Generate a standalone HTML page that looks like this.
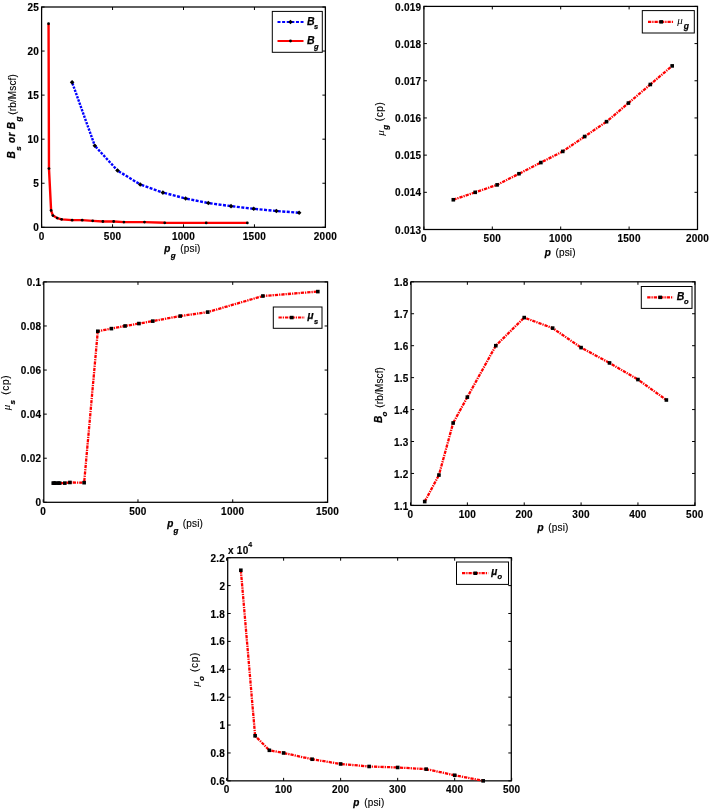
<!DOCTYPE html>
<html><head><meta charset="utf-8"><title>PVT properties</title>
<style>
html,body{margin:0;padding:0;background:#fff;}
svg{display:block;}
text{font-family:"Liberation Sans", sans-serif;font-size:10px;fill:#000;}
.tk{font-weight:bold;font-size:10px;letter-spacing:0.25px;stroke:#000;stroke-width:0.15px;}
.bi{font-family:"Liberation Sans", sans-serif;font-weight:bold;font-style:italic;font-size:10px;letter-spacing:0.3px;stroke:#000;stroke-width:0.25px;}
.rg{font-family:"Liberation Sans", sans-serif;font-weight:normal;font-style:normal;font-size:10px;letter-spacing:0.15px;stroke:#000;stroke-width:0.12px;}
.mu{font-family:"Liberation Serif",serif;font-style:italic;font-size:11px;}
</style></head><body>
<svg width="710" height="810" viewBox="0 0 710 810">
<rect width="710" height="810" fill="#fff"/>
<rect x="41.60" y="7.00" width="283.80" height="220.30" fill="#fff" stroke="#000" stroke-width="1.25"/>
<path d="M41.60 227.30v-3M41.60 7.00v3" stroke="#000" stroke-width="1" fill="none"/>
<text x="41.60" y="239.50" text-anchor="middle" class="tk">0</text>
<path d="M112.55 227.30v-3M112.55 7.00v3" stroke="#000" stroke-width="1" fill="none"/>
<text x="112.55" y="239.50" text-anchor="middle" class="tk">500</text>
<path d="M183.50 227.30v-3M183.50 7.00v3" stroke="#000" stroke-width="1" fill="none"/>
<text x="183.50" y="239.50" text-anchor="middle" class="tk">1000</text>
<path d="M254.45 227.30v-3M254.45 7.00v3" stroke="#000" stroke-width="1" fill="none"/>
<text x="254.45" y="239.50" text-anchor="middle" class="tk">1500</text>
<path d="M325.40 227.30v-3M325.40 7.00v3" stroke="#000" stroke-width="1" fill="none"/>
<text x="325.40" y="239.50" text-anchor="middle" class="tk">2000</text>
<path d="M41.60 227.30h3M325.40 227.30h-3" stroke="#000" stroke-width="1" fill="none"/>
<text x="39.10" y="231.40" text-anchor="end" class="tk">0</text>
<path d="M41.60 183.24h3M325.40 183.24h-3" stroke="#000" stroke-width="1" fill="none"/>
<text x="39.10" y="187.34" text-anchor="end" class="tk">5</text>
<path d="M41.60 139.18h3M325.40 139.18h-3" stroke="#000" stroke-width="1" fill="none"/>
<text x="39.10" y="143.28" text-anchor="end" class="tk">10</text>
<path d="M41.60 95.12h3M325.40 95.12h-3" stroke="#000" stroke-width="1" fill="none"/>
<text x="39.10" y="99.22" text-anchor="end" class="tk">15</text>
<path d="M41.60 51.06h3M325.40 51.06h-3" stroke="#000" stroke-width="1" fill="none"/>
<text x="39.10" y="55.16" text-anchor="end" class="tk">20</text>
<path d="M41.60 7.00h3M325.40 7.00h-3" stroke="#000" stroke-width="1" fill="none"/>
<text x="39.10" y="11.10" text-anchor="end" class="tk">25</text>
<path d="M72.11 82.34L94.81 145.79" fill="none" stroke="#0000ff" stroke-width="2.4" stroke-dasharray="2.30 1.13" stroke-dashoffset="-1.03"/>
<path d="M94.81 145.79L117.52 170.55" fill="none" stroke="#0000ff" stroke-width="2.4" stroke-dasharray="2.58 1.27" stroke-dashoffset="-1.15"/>
<path d="M117.52 170.55L140.22 184.47" fill="none" stroke="#0000ff" stroke-width="2.4" stroke-dasharray="2.80 1.38" stroke-dashoffset="-1.25"/>
<path d="M140.22 184.47L162.92 192.58" fill="none" stroke="#0000ff" stroke-width="2.4" stroke-dasharray="2.92 1.44" stroke-dashoffset="-1.31"/>
<path d="M162.92 192.58L185.63 198.48" fill="none" stroke="#0000ff" stroke-width="2.4" stroke-dasharray="2.96 1.46" stroke-dashoffset="-1.33"/>
<path d="M185.63 198.48L208.33 203.07" fill="none" stroke="#0000ff" stroke-width="2.4" stroke-dasharray="2.98 1.47" stroke-dashoffset="-1.34"/>
<path d="M208.33 203.07L231.04 206.15" fill="none" stroke="#0000ff" stroke-width="2.4" stroke-dasharray="3.00 1.48" stroke-dashoffset="-1.34"/>
<path d="M231.04 206.15L253.74 208.79" fill="none" stroke="#0000ff" stroke-width="2.4" stroke-dasharray="3.00 1.48" stroke-dashoffset="-1.35"/>
<path d="M253.74 208.79L276.44 211.00" fill="none" stroke="#0000ff" stroke-width="2.4" stroke-dasharray="3.01 1.48" stroke-dashoffset="-1.35"/>
<path d="M276.44 211.00L299.15 212.76" fill="none" stroke="#0000ff" stroke-width="2.4" stroke-dasharray="3.01 1.48" stroke-dashoffset="-1.35"/>
<polyline points="48.55,23.74 48.98,168.61 51.11,210.47 52.95,215.58 57.21,218.05 61.61,219.37 72.11,220.16 82.18,220.16 92.68,220.87 102.90,221.48 113.69,221.48 123.90,222.10 144.48,222.10 164.77,222.81 206.20,222.89 247.35,222.89" fill="none" stroke="#ff0000" stroke-width="2.4" stroke-linejoin="round"/>
<path d="M69.81 82.34L72.11 80.04L74.41 82.34L72.11 84.64Z" fill="#000"/>
<path d="M92.51 145.79L94.81 143.49L97.11 145.79L94.81 148.09Z" fill="#000"/>
<path d="M115.22 170.55L117.52 168.25L119.82 170.55L117.52 172.85Z" fill="#000"/>
<path d="M137.92 184.47L140.22 182.17L142.52 184.47L140.22 186.77Z" fill="#000"/>
<path d="M160.62 192.58L162.92 190.28L165.22 192.58L162.92 194.88Z" fill="#000"/>
<path d="M183.33 198.48L185.63 196.18L187.93 198.48L185.63 200.78Z" fill="#000"/>
<path d="M206.03 203.07L208.33 200.77L210.63 203.07L208.33 205.37Z" fill="#000"/>
<path d="M228.74 206.15L231.04 203.85L233.34 206.15L231.04 208.45Z" fill="#000"/>
<path d="M251.44 208.79L253.74 206.49L256.04 208.79L253.74 211.09Z" fill="#000"/>
<path d="M274.14 211.00L276.44 208.70L278.74 211.00L276.44 213.30Z" fill="#000"/>
<path d="M296.85 212.76L299.15 210.46L301.45 212.76L299.15 215.06Z" fill="#000"/>
<circle cx="48.55" cy="23.74" r="1.4" fill="#000"/>
<circle cx="48.98" cy="168.61" r="1.4" fill="#000"/>
<circle cx="51.11" cy="210.47" r="1.4" fill="#000"/>
<circle cx="52.95" cy="215.58" r="1.4" fill="#000"/>
<circle cx="57.21" cy="218.05" r="1.4" fill="#000"/>
<circle cx="61.61" cy="219.37" r="1.4" fill="#000"/>
<circle cx="72.11" cy="220.16" r="1.4" fill="#000"/>
<circle cx="82.18" cy="220.16" r="1.4" fill="#000"/>
<circle cx="92.68" cy="220.87" r="1.4" fill="#000"/>
<circle cx="102.90" cy="221.48" r="1.4" fill="#000"/>
<circle cx="113.69" cy="221.48" r="1.4" fill="#000"/>
<circle cx="123.90" cy="222.10" r="1.4" fill="#000"/>
<circle cx="144.48" cy="222.10" r="1.4" fill="#000"/>
<circle cx="164.77" cy="222.81" r="1.4" fill="#000"/>
<circle cx="206.20" cy="222.89" r="1.4" fill="#000"/>
<circle cx="247.35" cy="222.89" r="1.4" fill="#000"/>
<rect x="272.30" y="11.40" width="50.00" height="40.90" fill="#fff" stroke="#000" stroke-width="1"/>
<path d="M277.5 22H303.5" stroke="#0000ff" stroke-width="2" stroke-dasharray="3 1.62" fill="none"/>
<path d="M288.2 22L290.5 19.7L292.8 22L290.5 24.3Z" fill="#000"/>
<path d="M277.5 41H303.5" stroke="#ff0000" stroke-width="2" fill="none"/>
<circle cx="290.5" cy="41" r="1.4" fill="#000"/>
<text x="307" y="24.6" class="bi" style="font-size:10.5px">B<tspan dy="4.6" dx="-0.8" style="font-size:7.5px">s</tspan></text>
<text x="307" y="43.5" class="bi" style="font-size:10.5px">B<tspan dy="5.3" dx="-1" style="font-size:7.5px">g</tspan></text>
<text x="164.3" y="252" class="bi">p<tspan dy="5.8" dx="0" style="font-size:8px">g</tspan><tspan dy="-6.1" dx="4.4" class="rg">(psi)</tspan></text>
<text transform="translate(14.9,158.6) rotate(-90)" class="bi">B<tspan dy="5.8" dx="0.3" style="font-size:8px">s</tspan><tspan dy="-5.8"> or B</tspan><tspan dy="5.8" dx="0.3" style="font-size:8px">g</tspan><tspan dy="-4.8" dx="1.5" class="rg">(rb/Mscf)</tspan></text>
<rect x="423.90" y="6.40" width="273.60" height="223.10" fill="#fff" stroke="#000" stroke-width="1.25"/>
<path d="M423.90 229.50v-3M423.90 6.40v3" stroke="#000" stroke-width="1" fill="none"/>
<text x="423.90" y="241.70" text-anchor="middle" class="tk">0</text>
<path d="M492.30 229.50v-3M492.30 6.40v3" stroke="#000" stroke-width="1" fill="none"/>
<text x="492.30" y="241.70" text-anchor="middle" class="tk">500</text>
<path d="M560.70 229.50v-3M560.70 6.40v3" stroke="#000" stroke-width="1" fill="none"/>
<text x="560.70" y="241.70" text-anchor="middle" class="tk">1000</text>
<path d="M629.10 229.50v-3M629.10 6.40v3" stroke="#000" stroke-width="1" fill="none"/>
<text x="629.10" y="241.70" text-anchor="middle" class="tk">1500</text>
<path d="M697.50 229.50v-3M697.50 6.40v3" stroke="#000" stroke-width="1" fill="none"/>
<text x="697.50" y="241.70" text-anchor="middle" class="tk">2000</text>
<path d="M423.90 229.50h3M697.50 229.50h-3" stroke="#000" stroke-width="1" fill="none"/>
<text x="421.40" y="233.60" text-anchor="end" class="tk">0.013</text>
<path d="M423.90 192.32h3M697.50 192.32h-3" stroke="#000" stroke-width="1" fill="none"/>
<text x="421.40" y="196.42" text-anchor="end" class="tk">0.014</text>
<path d="M423.90 155.13h3M697.50 155.13h-3" stroke="#000" stroke-width="1" fill="none"/>
<text x="421.40" y="159.23" text-anchor="end" class="tk">0.015</text>
<path d="M423.90 117.95h3M697.50 117.95h-3" stroke="#000" stroke-width="1" fill="none"/>
<text x="421.40" y="122.05" text-anchor="end" class="tk">0.016</text>
<path d="M423.90 80.77h3M697.50 80.77h-3" stroke="#000" stroke-width="1" fill="none"/>
<text x="421.40" y="84.87" text-anchor="end" class="tk">0.017</text>
<path d="M423.90 43.58h3M697.50 43.58h-3" stroke="#000" stroke-width="1" fill="none"/>
<text x="421.40" y="47.68" text-anchor="end" class="tk">0.018</text>
<path d="M423.90 6.40h3M697.50 6.40h-3" stroke="#000" stroke-width="1" fill="none"/>
<text x="421.40" y="10.50" text-anchor="end" class="tk">0.019</text>
<polyline points="453.31,199.75 475.20,192.32 497.09,184.88 518.98,173.72 540.86,162.57 562.75,151.41 584.64,136.54 606.53,121.67 628.42,103.08 650.30,84.49 672.19,65.89" fill="none" stroke="#ff0000" stroke-width="2.3" stroke-dasharray="3.3 0.95 1.3 0.95" stroke-linejoin="round"/>
<rect x="451.51" y="197.95" width="3.6" height="3.6" fill="#000"/>
<rect x="473.40" y="190.52" width="3.6" height="3.6" fill="#000"/>
<rect x="495.29" y="183.08" width="3.6" height="3.6" fill="#000"/>
<rect x="517.18" y="171.92" width="3.6" height="3.6" fill="#000"/>
<rect x="539.06" y="160.77" width="3.6" height="3.6" fill="#000"/>
<rect x="560.95" y="149.61" width="3.6" height="3.6" fill="#000"/>
<rect x="582.84" y="134.74" width="3.6" height="3.6" fill="#000"/>
<rect x="604.73" y="119.87" width="3.6" height="3.6" fill="#000"/>
<rect x="626.62" y="101.28" width="3.6" height="3.6" fill="#000"/>
<rect x="648.50" y="82.69" width="3.6" height="3.6" fill="#000"/>
<rect x="670.39" y="64.09" width="3.6" height="3.6" fill="#000"/>
<rect x="642.30" y="10.60" width="52.00" height="22.40" fill="#fff" stroke="#000" stroke-width="1"/>
<path d="M648 21.8H674" stroke="#ff0000" stroke-width="2.2" stroke-dasharray="3.3 0.95 1.3 0.95" fill="none"/>
<rect x="659.3" y="20.1" width="3.8" height="3.5" fill="#000"/>
<text x="677.3" y="24" class="mu">&#956;<tspan dy="4.5" dx="0.8" class="bi" style="font-size:8.5px">g</tspan></text>
<text x="544.7" y="255.9" class="bi">p<tspan class="rg" dx="4.4">(psi)</tspan></text>
<text transform="translate(383.8,135.8) rotate(-90)" class="mu">&#956;<tspan dy="4.2" dx="0.5" class="bi" style="font-size:8px">g</tspan><tspan dy="-5.2" dx="3.3" class="rg" style="letter-spacing:0.65px">(cp)</tspan></text>
<rect x="43.80" y="281.90" width="283.80" height="220.40" fill="#fff" stroke="#000" stroke-width="1.25"/>
<path d="M43.20 502.30v-3M43.20 281.90v3" stroke="#000" stroke-width="1" fill="none"/>
<text x="43.20" y="514.50" text-anchor="middle" class="tk">0</text>
<path d="M137.97 502.30v-3M137.97 281.90v3" stroke="#000" stroke-width="1" fill="none"/>
<text x="137.97" y="514.50" text-anchor="middle" class="tk">500</text>
<path d="M232.73 502.30v-3M232.73 281.90v3" stroke="#000" stroke-width="1" fill="none"/>
<text x="232.73" y="514.50" text-anchor="middle" class="tk">1000</text>
<path d="M327.50 502.30v-3M327.50 281.90v3" stroke="#000" stroke-width="1" fill="none"/>
<text x="327.50" y="514.50" text-anchor="middle" class="tk">1500</text>
<path d="M43.80 502.30h3M327.60 502.30h-3" stroke="#000" stroke-width="1" fill="none"/>
<text x="41.30" y="506.40" text-anchor="end" class="tk">0</text>
<path d="M43.80 458.22h3M327.60 458.22h-3" stroke="#000" stroke-width="1" fill="none"/>
<text x="41.30" y="462.32" text-anchor="end" class="tk">0.02</text>
<path d="M43.80 414.14h3M327.60 414.14h-3" stroke="#000" stroke-width="1" fill="none"/>
<text x="41.30" y="418.24" text-anchor="end" class="tk">0.04</text>
<path d="M43.80 370.06h3M327.60 370.06h-3" stroke="#000" stroke-width="1" fill="none"/>
<text x="41.30" y="374.16" text-anchor="end" class="tk">0.06</text>
<path d="M43.80 325.98h3M327.60 325.98h-3" stroke="#000" stroke-width="1" fill="none"/>
<text x="41.30" y="330.08" text-anchor="end" class="tk">0.08</text>
<path d="M43.80 281.90h3M327.60 281.90h-3" stroke="#000" stroke-width="1" fill="none"/>
<text x="41.30" y="286.00" text-anchor="end" class="tk">0.1</text>
<polyline points="53.25,483.13 54.19,483.13 55.90,483.13 58.36,483.13 59.69,483.13 64.81,483.13 69.92,482.46 84.14,482.68 97.79,331.27 111.43,328.62 125.08,325.98 138.91,323.56 152.75,321.13 180.23,316.06 207.71,312.09 262.87,296.01 317.83,291.60" fill="none" stroke="#ff0000" stroke-width="2.3" stroke-dasharray="3.3 0.95 1.3 0.95" stroke-linejoin="round"/>
<rect x="51.45" y="481.33" width="3.6" height="3.6" fill="#000"/>
<rect x="52.39" y="481.33" width="3.6" height="3.6" fill="#000"/>
<rect x="54.10" y="481.33" width="3.6" height="3.6" fill="#000"/>
<rect x="56.56" y="481.33" width="3.6" height="3.6" fill="#000"/>
<rect x="57.89" y="481.33" width="3.6" height="3.6" fill="#000"/>
<rect x="63.01" y="481.33" width="3.6" height="3.6" fill="#000"/>
<rect x="68.12" y="480.66" width="3.6" height="3.6" fill="#000"/>
<rect x="82.34" y="480.88" width="3.6" height="3.6" fill="#000"/>
<rect x="95.99" y="329.47" width="3.6" height="3.6" fill="#000"/>
<rect x="109.63" y="326.82" width="3.6" height="3.6" fill="#000"/>
<rect x="123.28" y="324.18" width="3.6" height="3.6" fill="#000"/>
<rect x="137.11" y="321.76" width="3.6" height="3.6" fill="#000"/>
<rect x="150.95" y="319.33" width="3.6" height="3.6" fill="#000"/>
<rect x="178.43" y="314.26" width="3.6" height="3.6" fill="#000"/>
<rect x="205.91" y="310.29" width="3.6" height="3.6" fill="#000"/>
<rect x="261.07" y="294.21" width="3.6" height="3.6" fill="#000"/>
<rect x="316.03" y="289.80" width="3.6" height="3.6" fill="#000"/>
<rect x="273.30" y="307.00" width="48.70" height="21.30" fill="#fff" stroke="#000" stroke-width="1"/>
<path d="M278.5 317.5H304.8" stroke="#ff0000" stroke-width="2.2" stroke-dasharray="3.3 0.95 1.3 0.95" fill="none"/>
<rect x="289.8" y="315.8" width="3.8" height="3.5" fill="#000"/>
<text x="307.6" y="319.2" class="bi" style="font-size:10px">&#956;<tspan dy="4.4" dx="0" style="font-size:7.5px">s</tspan></text>
<text x="167.2" y="527.4" class="bi">p<tspan dy="5.8" dx="0" style="font-size:8px">g</tspan><tspan dy="-6.1" dx="4" class="rg">(psi)</tspan></text>
<text transform="translate(10.15,410.3) rotate(-90)" class="mu">&#956;<tspan dy="4.4" dx="0.4" class="bi" style="font-size:8px">s</tspan><tspan dy="-5.2" dx="5" class="rg" style="letter-spacing:0.65px">(cp)</tspan></text>
<rect x="411.05" y="281.80" width="284.00" height="223.60" fill="#fff" stroke="#000" stroke-width="1.25"/>
<path d="M410.50 505.40v-3M410.50 281.80v3" stroke="#000" stroke-width="1" fill="none"/>
<text x="410.50" y="517.60" text-anchor="middle" class="tk">0</text>
<path d="M467.36 505.40v-3M467.36 281.80v3" stroke="#000" stroke-width="1" fill="none"/>
<text x="467.36" y="517.60" text-anchor="middle" class="tk">100</text>
<path d="M524.22 505.40v-3M524.22 281.80v3" stroke="#000" stroke-width="1" fill="none"/>
<text x="524.22" y="517.60" text-anchor="middle" class="tk">200</text>
<path d="M581.08 505.40v-3M581.08 281.80v3" stroke="#000" stroke-width="1" fill="none"/>
<text x="581.08" y="517.60" text-anchor="middle" class="tk">300</text>
<path d="M637.94 505.40v-3M637.94 281.80v3" stroke="#000" stroke-width="1" fill="none"/>
<text x="637.94" y="517.60" text-anchor="middle" class="tk">400</text>
<path d="M694.80 505.40v-3M694.80 281.80v3" stroke="#000" stroke-width="1" fill="none"/>
<text x="694.80" y="517.60" text-anchor="middle" class="tk">500</text>
<path d="M411.05 505.40h3M695.05 505.40h-3" stroke="#000" stroke-width="1" fill="none"/>
<text x="408.55" y="509.50" text-anchor="end" class="tk">1.1</text>
<path d="M411.05 473.46h3M695.05 473.46h-3" stroke="#000" stroke-width="1" fill="none"/>
<text x="408.55" y="477.56" text-anchor="end" class="tk">1.2</text>
<path d="M411.05 441.51h3M695.05 441.51h-3" stroke="#000" stroke-width="1" fill="none"/>
<text x="408.55" y="445.61" text-anchor="end" class="tk">1.3</text>
<path d="M411.05 409.57h3M695.05 409.57h-3" stroke="#000" stroke-width="1" fill="none"/>
<text x="408.55" y="413.67" text-anchor="end" class="tk">1.4</text>
<path d="M411.05 377.63h3M695.05 377.63h-3" stroke="#000" stroke-width="1" fill="none"/>
<text x="408.55" y="381.73" text-anchor="end" class="tk">1.5</text>
<path d="M411.05 345.69h3M695.05 345.69h-3" stroke="#000" stroke-width="1" fill="none"/>
<text x="408.55" y="349.79" text-anchor="end" class="tk">1.6</text>
<path d="M411.05 313.74h3M695.05 313.74h-3" stroke="#000" stroke-width="1" fill="none"/>
<text x="408.55" y="317.84" text-anchor="end" class="tk">1.7</text>
<path d="M411.05 281.80h3M695.05 281.80h-3" stroke="#000" stroke-width="1" fill="none"/>
<text x="408.55" y="285.90" text-anchor="end" class="tk">1.8</text>
<polyline points="424.71,501.57 438.93,475.05 453.14,422.99 467.36,397.11 495.79,345.69 524.22,317.58 552.65,328.12 581.08,347.60 609.51,362.93 637.94,379.55 666.37,399.99" fill="none" stroke="#ff0000" stroke-width="2.3" stroke-dasharray="3.3 0.95 1.3 0.95" stroke-linejoin="round"/>
<rect x="422.91" y="499.77" width="3.6" height="3.6" fill="#000"/>
<rect x="437.13" y="473.25" width="3.6" height="3.6" fill="#000"/>
<rect x="451.34" y="421.19" width="3.6" height="3.6" fill="#000"/>
<rect x="465.56" y="395.31" width="3.6" height="3.6" fill="#000"/>
<rect x="493.99" y="343.89" width="3.6" height="3.6" fill="#000"/>
<rect x="522.42" y="315.78" width="3.6" height="3.6" fill="#000"/>
<rect x="550.85" y="326.32" width="3.6" height="3.6" fill="#000"/>
<rect x="579.28" y="345.80" width="3.6" height="3.6" fill="#000"/>
<rect x="607.71" y="361.13" width="3.6" height="3.6" fill="#000"/>
<rect x="636.14" y="377.75" width="3.6" height="3.6" fill="#000"/>
<rect x="664.57" y="398.19" width="3.6" height="3.6" fill="#000"/>
<rect x="641.30" y="286.50" width="50.70" height="21.90" fill="#fff" stroke="#000" stroke-width="1"/>
<path d="M647.2 297.3H673.3" stroke="#ff0000" stroke-width="2.2" stroke-dasharray="3.3 0.95 1.3 0.95" fill="none"/>
<rect x="658.3" y="295.6" width="3.8" height="3.5" fill="#000"/>
<text x="676.8" y="299.6" class="bi" style="font-size:10.5px">B<tspan dy="4.8" dx="-0.6" style="font-size:7.5px">o</tspan></text>
<text x="537.5" y="531.1" class="bi">p<tspan class="rg" dx="4.4">(psi)</tspan></text>
<text transform="translate(382.4,423) rotate(-90)" class="bi">B<tspan dy="4.7" dx="-1" style="font-size:8px">o</tspan><tspan dy="-4.1" dx="3.6" class="rg">(rb/Mscf)</tspan></text>
<rect x="227.70" y="557.70" width="283.60" height="223.15" fill="#fff" stroke="#000" stroke-width="1.25"/>
<path d="M226.60 780.85v-3M226.60 557.70v3" stroke="#000" stroke-width="1" fill="none"/>
<text x="226.60" y="793.05" text-anchor="middle" class="tk">0</text>
<path d="M283.62 780.85v-3M283.62 557.70v3" stroke="#000" stroke-width="1" fill="none"/>
<text x="283.62" y="793.05" text-anchor="middle" class="tk">100</text>
<path d="M340.64 780.85v-3M340.64 557.70v3" stroke="#000" stroke-width="1" fill="none"/>
<text x="340.64" y="793.05" text-anchor="middle" class="tk">200</text>
<path d="M397.66 780.85v-3M397.66 557.70v3" stroke="#000" stroke-width="1" fill="none"/>
<text x="397.66" y="793.05" text-anchor="middle" class="tk">300</text>
<path d="M454.68 780.85v-3M454.68 557.70v3" stroke="#000" stroke-width="1" fill="none"/>
<text x="454.68" y="793.05" text-anchor="middle" class="tk">400</text>
<path d="M511.70 780.85v-3M511.70 557.70v3" stroke="#000" stroke-width="1" fill="none"/>
<text x="511.70" y="793.05" text-anchor="middle" class="tk">500</text>
<path d="M227.70 780.85h3M511.30 780.85h-3" stroke="#000" stroke-width="1" fill="none"/>
<text x="225.20" y="784.95" text-anchor="end" class="tk">0.6</text>
<path d="M227.70 752.96h3M511.30 752.96h-3" stroke="#000" stroke-width="1" fill="none"/>
<text x="225.20" y="757.06" text-anchor="end" class="tk">0.8</text>
<path d="M227.70 725.06h3M511.30 725.06h-3" stroke="#000" stroke-width="1" fill="none"/>
<text x="225.20" y="729.16" text-anchor="end" class="tk">1</text>
<path d="M227.70 697.17h3M511.30 697.17h-3" stroke="#000" stroke-width="1" fill="none"/>
<text x="225.20" y="701.27" text-anchor="end" class="tk">1.2</text>
<path d="M227.70 669.28h3M511.30 669.28h-3" stroke="#000" stroke-width="1" fill="none"/>
<text x="225.20" y="673.38" text-anchor="end" class="tk">1.4</text>
<path d="M227.70 641.38h3M511.30 641.38h-3" stroke="#000" stroke-width="1" fill="none"/>
<text x="225.20" y="645.48" text-anchor="end" class="tk">1.6</text>
<path d="M227.70 613.49h3M511.30 613.49h-3" stroke="#000" stroke-width="1" fill="none"/>
<text x="225.20" y="617.59" text-anchor="end" class="tk">1.8</text>
<path d="M227.70 585.59h3M511.30 585.59h-3" stroke="#000" stroke-width="1" fill="none"/>
<text x="225.20" y="589.69" text-anchor="end" class="tk">2</text>
<path d="M227.70 557.70h3M511.30 557.70h-3" stroke="#000" stroke-width="1" fill="none"/>
<text x="225.20" y="561.80" text-anchor="end" class="tk">2.2</text>
<polyline points="240.85,570.25 255.11,735.80 269.37,750.31 283.62,752.96 312.13,759.23 340.64,763.97 369.15,766.48 397.66,767.46 426.17,769.13 454.68,775.27 483.19,780.85" fill="none" stroke="#ff0000" stroke-width="2.3" stroke-dasharray="3.3 0.95 1.3 0.95" stroke-linejoin="round"/>
<rect x="239.05" y="568.45" width="3.6" height="3.6" fill="#000"/>
<rect x="253.31" y="734.00" width="3.6" height="3.6" fill="#000"/>
<rect x="267.56" y="748.51" width="3.6" height="3.6" fill="#000"/>
<rect x="281.82" y="751.16" width="3.6" height="3.6" fill="#000"/>
<rect x="310.33" y="757.43" width="3.6" height="3.6" fill="#000"/>
<rect x="338.84" y="762.17" width="3.6" height="3.6" fill="#000"/>
<rect x="367.35" y="764.68" width="3.6" height="3.6" fill="#000"/>
<rect x="395.86" y="765.66" width="3.6" height="3.6" fill="#000"/>
<rect x="424.37" y="767.33" width="3.6" height="3.6" fill="#000"/>
<rect x="452.88" y="773.47" width="3.6" height="3.6" fill="#000"/>
<rect x="481.39" y="779.05" width="3.6" height="3.6" fill="#000"/>
<rect x="456.50" y="562.00" width="52.00" height="22.40" fill="#fff" stroke="#000" stroke-width="1"/>
<path d="M462 573.2H488.2" stroke="#ff0000" stroke-width="2.2" stroke-dasharray="3.3 0.95 1.3 0.95" fill="none"/>
<rect x="473.4" y="571.5" width="3.8" height="3.5" fill="#000"/>
<text x="491.2" y="574.8" class="bi" style="font-size:10px">&#956;<tspan dy="4.5" dx="0" style="font-size:7.5px">o</tspan></text>
<text x="353.3" y="806.1" class="bi">p<tspan class="rg" dx="4.5">(psi)</tspan></text>
<text transform="translate(199,686.85) rotate(-90)" class="mu">&#956;<tspan dy="4.9" dx="0.4" class="bi" style="font-size:8px">o</tspan><tspan dy="-5.9" dx="3.8" class="rg" style="letter-spacing:0.65px">(cp)</tspan></text>
<text x="228" y="553.6" class="tk">x 10<tspan dy="-7" dx="-0.3" style="font-size:7px">4</tspan></text>
</svg>
</body></html>
